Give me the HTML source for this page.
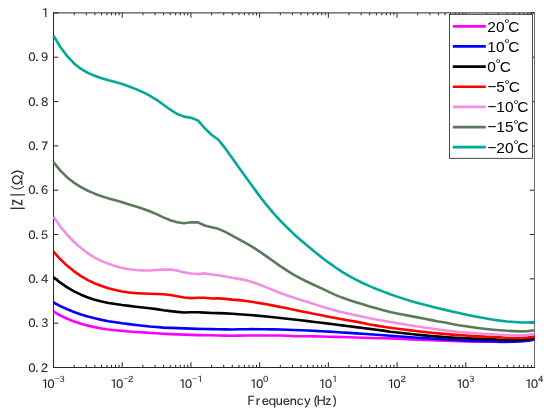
<!DOCTYPE html>
<html><head><meta charset="utf-8"><title>|Z| vs Frequency</title>
<style>
html,body{margin:0;padding:0;background:#fff;}
svg{display:block;}
text{white-space:pre;}
.tk,.ex,.lb,.yl{stroke:#262626;stroke-width:0.12px;}
.tk{font-family:"IPAPGothic","IPAGothic","Liberation Sans",sans-serif;font-size:11.8px;fill:#262626;}
.ex{font-family:"IPAPGothic","IPAGothic","Liberation Sans",sans-serif;font-size:8.5px;fill:#262626;}
.lb{font-family:"IPAPGothic","IPAGothic","Liberation Sans",sans-serif;font-size:12.6px;fill:#262626;}
.yl{font-family:"IPAGothic","Liberation Sans",sans-serif;font-size:14.3px;fill:#262626;}
.lg{font-family:"Liberation Sans",sans-serif;font-size:15.5px;fill:#000;}
</style></head>
<body>
<svg width="550" height="417" viewBox="0 0 550 417">
<rect x="0" y="0" width="550" height="417" fill="#ffffff"/>
<path d="M53.50,367.50 v-5.3 M53.50,12.90 v4.8 M74.19,367.50 v-2.7 M74.19,12.90 v2.4 M86.29,367.50 v-2.7 M86.29,12.90 v2.4 M94.87,367.50 v-2.7 M94.87,12.90 v2.4 M101.53,367.50 v-2.7 M101.53,12.90 v2.4 M106.97,367.50 v-2.7 M106.97,12.90 v2.4 M111.57,367.50 v-2.7 M111.57,12.90 v2.4 M115.56,367.50 v-2.7 M115.56,12.90 v2.4 M119.07,367.50 v-2.7 M119.07,12.90 v2.4 M122.21,367.50 v-5.3 M122.21,12.90 v4.8 M142.90,367.50 v-2.7 M142.90,12.90 v2.4 M155.00,367.50 v-2.7 M155.00,12.90 v2.4 M163.58,367.50 v-2.7 M163.58,12.90 v2.4 M170.24,367.50 v-2.7 M170.24,12.90 v2.4 M175.68,367.50 v-2.7 M175.68,12.90 v2.4 M180.28,367.50 v-2.7 M180.28,12.90 v2.4 M184.27,367.50 v-2.7 M184.27,12.90 v2.4 M187.78,367.50 v-2.7 M187.78,12.90 v2.4 M190.93,367.50 v-5.3 M190.93,12.90 v4.8 M211.61,367.50 v-2.7 M211.61,12.90 v2.4 M223.71,367.50 v-2.7 M223.71,12.90 v2.4 M232.30,367.50 v-2.7 M232.30,12.90 v2.4 M238.96,367.50 v-2.7 M238.96,12.90 v2.4 M244.40,367.50 v-2.7 M244.40,12.90 v2.4 M249.00,367.50 v-2.7 M249.00,12.90 v2.4 M252.98,367.50 v-2.7 M252.98,12.90 v2.4 M256.50,367.50 v-2.7 M256.50,12.90 v2.4 M259.64,367.50 v-5.3 M259.64,12.90 v4.8 M280.33,367.50 v-2.7 M280.33,12.90 v2.4 M292.43,367.50 v-2.7 M292.43,12.90 v2.4 M301.01,367.50 v-2.7 M301.01,12.90 v2.4 M307.67,367.50 v-2.7 M307.67,12.90 v2.4 M313.11,367.50 v-2.7 M313.11,12.90 v2.4 M317.71,367.50 v-2.7 M317.71,12.90 v2.4 M321.70,367.50 v-2.7 M321.70,12.90 v2.4 M325.21,367.50 v-2.7 M325.21,12.90 v2.4 M328.36,367.50 v-5.3 M328.36,12.90 v4.8 M349.04,367.50 v-2.7 M349.04,12.90 v2.4 M361.14,367.50 v-2.7 M361.14,12.90 v2.4 M369.73,367.50 v-2.7 M369.73,12.90 v2.4 M376.39,367.50 v-2.7 M376.39,12.90 v2.4 M381.83,367.50 v-2.7 M381.83,12.90 v2.4 M386.43,367.50 v-2.7 M386.43,12.90 v2.4 M390.41,367.50 v-2.7 M390.41,12.90 v2.4 M393.93,367.50 v-2.7 M393.93,12.90 v2.4 M397.07,367.50 v-5.3 M397.07,12.90 v4.8 M417.76,367.50 v-2.7 M417.76,12.90 v2.4 M429.86,367.50 v-2.7 M429.86,12.90 v2.4 M438.44,367.50 v-2.7 M438.44,12.90 v2.4 M445.10,367.50 v-2.7 M445.10,12.90 v2.4 M450.54,367.50 v-2.7 M450.54,12.90 v2.4 M455.14,367.50 v-2.7 M455.14,12.90 v2.4 M459.13,367.50 v-2.7 M459.13,12.90 v2.4 M462.64,367.50 v-2.7 M462.64,12.90 v2.4 M465.79,367.50 v-5.3 M465.79,12.90 v4.8 M486.47,367.50 v-2.7 M486.47,12.90 v2.4 M498.57,367.50 v-2.7 M498.57,12.90 v2.4 M507.16,367.50 v-2.7 M507.16,12.90 v2.4 M513.81,367.50 v-2.7 M513.81,12.90 v2.4 M519.26,367.50 v-2.7 M519.26,12.90 v2.4 M523.86,367.50 v-2.7 M523.86,12.90 v2.4 M527.84,367.50 v-2.7 M527.84,12.90 v2.4 M531.36,367.50 v-2.7 M531.36,12.90 v2.4 M534.50,367.50 v-5.3 M534.50,12.90 v4.8 M53.50,12.90 h4.8 M534.50,12.90 h-4.8 M53.50,57.23 h4.8 M534.50,57.23 h-4.8 M53.50,101.55 h4.8 M534.50,101.55 h-4.8 M53.50,145.88 h4.8 M534.50,145.88 h-4.8 M53.50,190.20 h4.8 M534.50,190.20 h-4.8 M53.50,234.53 h4.8 M534.50,234.53 h-4.8 M53.50,278.85 h4.8 M534.50,278.85 h-4.8 M53.50,323.18 h4.8 M534.50,323.18 h-4.8 M53.50,367.50 h4.8 M534.50,367.50 h-4.8" stroke="#262626" stroke-width="1" fill="none"/>
<path d="M53.00,12.90 H535.00" stroke="#262626" stroke-width="1" fill="none"/>
<path d="M534.50,12.90 V367.50" stroke="#6e6e6e" stroke-width="1" fill="none"/>
<path d="M53.50,12.90 V367.50 H534.50" stroke="#262626" stroke-width="1" fill="none" stroke-linecap="square"/>
<text class="tk" x="41.75" y="17.05">1</text>
<text class="tk" x="28.28 35.20 41.03" y="61.38">0.9</text>
<text class="tk" x="28.28 35.20 40.92" y="105.70">0.8</text>
<text class="tk" x="28.28 35.20 40.94" y="150.03">0.7</text>
<text class="tk" x="28.28 35.20 40.82" y="194.35">0.6</text>
<text class="tk" x="28.28 35.20 40.86" y="238.68">0.5</text>
<text class="tk" x="28.28 35.20 40.95" y="283.00">0.4</text>
<text class="tk" x="28.28 35.20 41.15" y="327.33">0.3</text>
<text class="tk" x="28.28 35.20 40.86" y="371.65">0.2</text>
<text class="tk" x="41.45 47.28" y="387.8">10<tspan class="ex" x="54.42 59.58" y="381.4 382.3">−3</tspan></text>
<text class="tk" x="110.16 116.00" y="387.8">10<tspan class="ex" x="123.14 128.09" y="381.4 382.3">−2</tspan></text>
<text class="tk" x="178.88 184.71" y="387.8">10<tspan class="ex" x="191.85 197.44" y="381.4 382.3">−1</tspan></text>
<text class="tk" x="250.09 255.92" y="387.8">10<tspan class="ex" x="263.06" y="382.3">0</tspan></text>
<text class="tk" x="318.81 324.64" y="387.8">10<tspan class="ex" x="332.37" y="382.3">1</tspan></text>
<text class="tk" x="387.52 393.35" y="387.8">10<tspan class="ex" x="400.44" y="382.3">2</tspan></text>
<text class="tk" x="456.23 462.07" y="387.8">10<tspan class="ex" x="469.37" y="382.3">3</tspan></text>
<text class="tk" x="524.95 530.78" y="387.8">10<tspan class="ex" x="537.94" y="382.3">4</tspan></text>
<text class="lb" x="247.24 255.42 261.68 268.60 275.51 282.68 289.42 296.72 304.14 313.47 316.53 325.31 332.65" y="404.9">Frequency(Hz)</text>
<text class="yl" transform="translate(22.8,0) rotate(-90)" x="-212.07 -205.90 -198.47 -191.65 -187.05 -175.40" y="0">|Z|(Ω)</text>
<g fill="none" stroke-width="2.6" stroke-linejoin="round" stroke-linecap="butt">
<polyline points="53.50,311.70 60.37,315.51 67.24,318.76 74.11,321.50 80.99,323.78 87.86,325.64 94.73,327.14 101.60,328.43 108.47,329.43 115.34,330.20 122.21,330.88 129.09,331.43 135.96,331.94 142.83,332.41 149.70,332.89 156.57,333.21 163.44,333.70 170.31,334.10 177.19,334.40 184.06,334.65 190.93,334.90 197.80,335.10 204.67,335.20 211.54,335.30 218.41,335.45 225.29,335.60 232.16,335.75 239.03,335.58 245.90,335.53 252.77,335.50 259.64,335.48 266.51,335.48 273.39,335.50 280.26,335.54 287.13,335.81 294.00,336.10 300.87,336.21 307.74,336.31 314.61,336.42 321.49,336.55 328.36,336.70 335.23,336.86 342.10,337.04 348.97,337.25 355.84,337.47 362.71,337.70 369.59,337.96 376.46,338.19 383.33,338.26 390.20,338.35 397.07,338.67 403.94,339.00 410.81,339.33 417.69,339.65 424.56,339.97 431.43,340.27 438.30,340.56 445.17,340.82 452.04,341.06 458.91,341.27 465.79,341.44 472.66,341.58 479.53,341.67 486.40,341.71 493.27,341.69 500.14,341.90 507.01,341.90 513.89,341.70 520.76,341.30 527.63,340.60 534.50,339.40" stroke="#ff00ff"/>
<polyline points="53.50,302.49 60.37,306.08 67.24,309.25 74.11,312.03 80.99,314.46 87.86,316.56 94.73,318.35 101.60,319.88 108.47,321.17 115.34,322.26 122.21,323.26 129.09,324.10 135.96,324.98 142.83,325.80 149.70,326.56 156.57,327.02 163.44,327.60 170.31,327.85 177.19,328.15 184.06,328.40 190.93,328.60 197.80,328.85 204.67,329.00 211.54,329.10 218.41,329.25 225.29,329.40 232.16,329.55 239.03,329.29 245.90,329.20 252.77,329.17 259.64,329.19 266.51,329.25 273.39,329.37 280.26,329.52 287.13,329.72 294.00,329.96 300.87,330.23 307.74,330.53 314.61,330.86 321.49,331.22 328.36,331.61 335.23,332.02 342.10,332.44 348.97,332.89 355.84,333.35 362.71,333.82 369.59,334.30 376.46,334.79 383.33,335.28 390.20,335.77 397.07,336.26 403.94,336.75 410.81,337.23 417.69,337.70 424.56,338.16 431.43,338.61 438.30,339.04 445.17,339.44 452.04,339.82 458.91,340.17 465.79,340.48 472.66,340.76 479.53,340.98 486.40,341.16 493.27,341.29 500.14,341.65 507.01,341.75 513.89,341.60 520.76,341.25 527.63,340.60 534.50,339.40" stroke="#0000ff"/>
<polyline points="53.50,277.20 60.37,282.65 67.24,287.35 74.11,291.35 80.99,294.68 87.86,297.46 94.73,299.74 101.60,301.51 108.47,302.92 115.34,304.05 122.21,305.05 129.09,305.88 135.96,306.69 142.83,307.48 149.70,308.32 156.57,309.10 163.44,310.20 170.31,311.10 177.19,311.90 184.06,312.55 190.93,312.30 197.80,312.30 204.67,312.60 211.54,313.05 218.41,313.10 225.29,313.40 232.16,313.80 239.03,314.18 245.90,314.71 252.77,315.28 259.64,315.89 266.51,316.54 273.39,317.23 280.26,317.96 287.13,318.71 294.00,319.48 300.87,320.29 307.74,321.11 314.61,321.95 321.49,322.80 328.36,323.66 335.23,324.53 342.10,325.40 348.97,326.28 355.84,327.15 362.71,328.02 369.59,328.88 376.46,329.73 383.33,330.66 390.20,331.67 397.07,332.47 403.94,333.24 410.81,333.98 417.69,334.69 424.56,335.36 431.43,336.00 438.30,336.60 445.17,337.16 452.04,337.63 458.91,337.95 465.79,338.23 472.66,338.58 479.53,338.87 486.40,339.10 493.27,339.26 500.14,339.70 507.01,339.90 513.89,339.85 520.76,339.60 527.63,339.00 534.50,337.90" stroke="#000000"/>
<polyline points="53.50,251.71 60.37,259.29 67.24,265.82 74.11,271.36 80.99,276.08 87.86,280.08 94.73,283.38 101.60,286.08 108.47,288.28 115.34,290.01 122.21,291.44 129.09,292.56 135.96,293.14 142.83,293.51 149.70,293.79 156.57,294.05 163.44,294.20 170.31,295.00 177.19,296.20 184.06,297.50 190.93,298.10 197.80,297.70 204.67,297.80 211.54,298.50 218.41,298.40 225.29,298.85 232.16,299.60 239.03,300.13 245.90,301.01 252.77,302.02 259.64,303.13 266.51,304.33 273.39,305.61 280.26,306.95 287.13,308.33 294.00,309.74 300.87,311.17 307.74,312.58 314.61,313.98 321.49,315.35 328.36,316.67 335.23,317.96 342.10,319.22 348.97,320.43 355.84,321.61 362.71,322.95 369.59,324.54 376.46,325.65 383.33,326.69 390.20,327.70 397.07,328.67 403.94,329.56 410.81,330.37 417.69,331.17 424.56,331.99 431.43,332.75 438.30,333.41 445.17,334.03 452.04,334.59 458.91,335.08 465.79,335.50 472.66,335.93 479.53,336.35 486.40,336.73 493.27,337.04 500.14,337.30 507.01,338.00 513.89,338.10 520.76,338.00 527.63,337.50 534.50,336.60" stroke="#ff0000"/>
<polyline points="53.50,216.86 60.37,226.53 67.24,234.88 74.11,241.99 80.99,248.05 87.86,253.28 94.73,257.58 101.60,261.07 108.47,263.85 115.34,266.11 122.21,268.02 129.09,269.26 135.96,269.96 142.83,270.36 149.70,270.56 156.57,270.06 163.44,269.60 170.31,269.50 177.19,270.60 184.06,272.40 190.93,273.55 197.80,274.15 204.67,273.40 211.54,274.50 218.41,275.30 225.29,276.40 232.16,277.81 239.03,278.90 245.90,280.14 252.77,282.18 259.64,284.76 266.51,287.41 273.39,290.24 280.26,292.96 287.13,295.49 294.00,297.71 300.87,299.92 307.74,302.02 314.61,304.32 321.49,306.59 328.36,308.61 335.23,310.43 342.10,312.17 348.97,313.83 355.84,315.38 362.71,316.83 369.59,318.23 376.46,319.48 383.33,320.70 390.20,321.92 397.07,323.12 403.94,324.30 410.81,325.47 417.69,326.55 424.56,327.51 431.43,328.46 438.30,329.48 445.17,330.43 452.04,331.28 458.91,331.92 465.79,332.50 472.66,333.05 479.53,333.50 486.40,334.00 493.27,334.40 500.14,334.70 507.01,335.15 513.89,335.25 520.76,335.20 527.63,334.80 534.50,334.00" stroke="#f090e0"/>
<polyline points="53.50,162.17 60.37,170.57 67.24,177.40 74.11,182.80 80.99,187.15 87.86,190.75 94.73,193.66 101.60,196.19 108.47,198.38 115.34,200.35 122.21,202.35 129.09,204.46 135.96,206.51 142.83,208.76 149.70,211.31 156.57,214.15 163.44,217.40 170.31,220.30 177.19,222.20 184.06,223.20 190.93,222.30 197.80,222.40 204.67,225.50 211.54,227.20 218.41,228.83 225.29,231.89 232.16,235.55 239.03,239.38 245.90,243.15 252.77,247.07 259.64,251.63 266.51,256.39 273.39,261.28 280.26,266.10 287.13,270.67 294.00,274.88 300.87,278.62 307.74,282.00 314.61,285.24 321.49,288.42 328.36,291.60 335.23,294.88 342.10,297.60 348.97,299.99 355.84,302.21 362.71,304.34 369.59,306.39 376.46,308.36 383.33,310.20 390.20,311.90 397.07,313.43 403.94,314.81 410.81,316.10 417.69,317.38 424.56,318.70 431.43,320.13 438.30,321.50 445.17,322.44 452.04,323.94 458.91,325.17 465.79,326.24 472.66,327.25 479.53,328.18 486.40,329.00 493.27,329.71 500.14,330.29 507.01,330.80 513.89,331.15 520.76,331.35 527.63,331.10 534.50,330.30" stroke="#5c7a5b"/>
<polyline points="53.50,35.55 60.37,47.00 67.24,56.16 74.11,63.41 80.99,68.90 87.86,72.87 94.73,75.85 101.60,78.22 108.47,80.23 115.34,82.06 122.21,84.10 129.09,86.43 135.96,89.09 142.83,92.17 149.70,95.68 156.57,99.82 163.44,104.80 170.31,109.70 177.19,114.00 184.06,116.60 190.93,117.80 197.80,120.40 204.67,128.10 211.54,134.80 218.41,139.80 225.29,148.40 232.16,158.11 239.03,167.77 245.90,177.25 252.77,186.76 259.64,196.14 266.51,204.95 273.39,213.11 280.26,220.63 287.13,227.54 294.00,234.16 300.87,240.22 307.74,246.05 314.61,251.73 321.49,257.22 328.36,262.42 335.23,267.28 342.10,271.80 348.97,275.89 355.84,279.60 362.71,283.00 369.59,286.11 376.46,288.97 383.33,291.66 390.20,294.24 397.07,296.63 403.94,298.87 410.81,300.96 417.69,302.92 424.56,304.78 431.43,306.54 438.30,308.24 445.17,309.88 452.04,311.47 458.91,312.99 465.79,314.47 472.66,315.90 479.53,317.29 486.40,318.55 493.27,319.67 500.14,320.64 507.01,321.45 513.89,322.00 520.76,322.40 527.63,322.55 534.50,322.10" stroke="#00a89a"/>
</g>
<rect x="449.50" y="14.40" width="83.00" height="144.00" fill="#fff" stroke="#4a4a4a" stroke-width="1"/>
<line x1="452.8" y1="26.30" x2="485.8" y2="26.30" stroke="#ff00ff" stroke-width="2.7"/>
<text class="lg" x="487.3" y="31.70">20<tspan font-size="13.5" dx="-0.4" dy="-3.6">°</tspan><tspan dx="-1.3" dy="3.6">C</tspan></text>
<line x1="452.8" y1="46.45" x2="485.8" y2="46.45" stroke="#0000ff" stroke-width="2.7"/>
<text class="lg" x="487.3" y="51.85">10<tspan font-size="13.5" dx="-0.4" dy="-3.6">°</tspan><tspan dx="-1.3" dy="3.6">C</tspan></text>
<line x1="452.8" y1="66.60" x2="485.8" y2="66.60" stroke="#000000" stroke-width="2.7"/>
<text class="lg" x="487.3" y="72.00">0<tspan font-size="13.5" dx="-0.4" dy="-3.6">°</tspan><tspan dx="-1.3" dy="3.6">C</tspan></text>
<line x1="452.8" y1="86.75" x2="485.8" y2="86.75" stroke="#ff0000" stroke-width="2.7"/>
<text class="lg" x="487.3" y="92.15">−5<tspan font-size="13.5" dx="-0.4" dy="-3.6">°</tspan><tspan dx="-1.3" dy="3.6">C</tspan></text>
<line x1="452.8" y1="106.90" x2="485.8" y2="106.90" stroke="#f090e0" stroke-width="2.7"/>
<text class="lg" x="487.3" y="112.30">−10<tspan font-size="13.5" dx="-0.4" dy="-3.6">°</tspan><tspan dx="-1.3" dy="3.6">C</tspan></text>
<line x1="452.8" y1="127.05" x2="485.8" y2="127.05" stroke="#5c7a5b" stroke-width="2.7"/>
<text class="lg" x="487.3" y="132.45">−15<tspan font-size="13.5" dx="-0.4" dy="-3.6">°</tspan><tspan dx="-1.3" dy="3.6">C</tspan></text>
<line x1="452.8" y1="147.20" x2="485.8" y2="147.20" stroke="#00a89a" stroke-width="2.7"/>
<text class="lg" x="487.3" y="152.60">−20<tspan font-size="13.5" dx="-0.4" dy="-3.6">°</tspan><tspan dx="-1.3" dy="3.6">C</tspan></text>
</svg>
</body></html>
